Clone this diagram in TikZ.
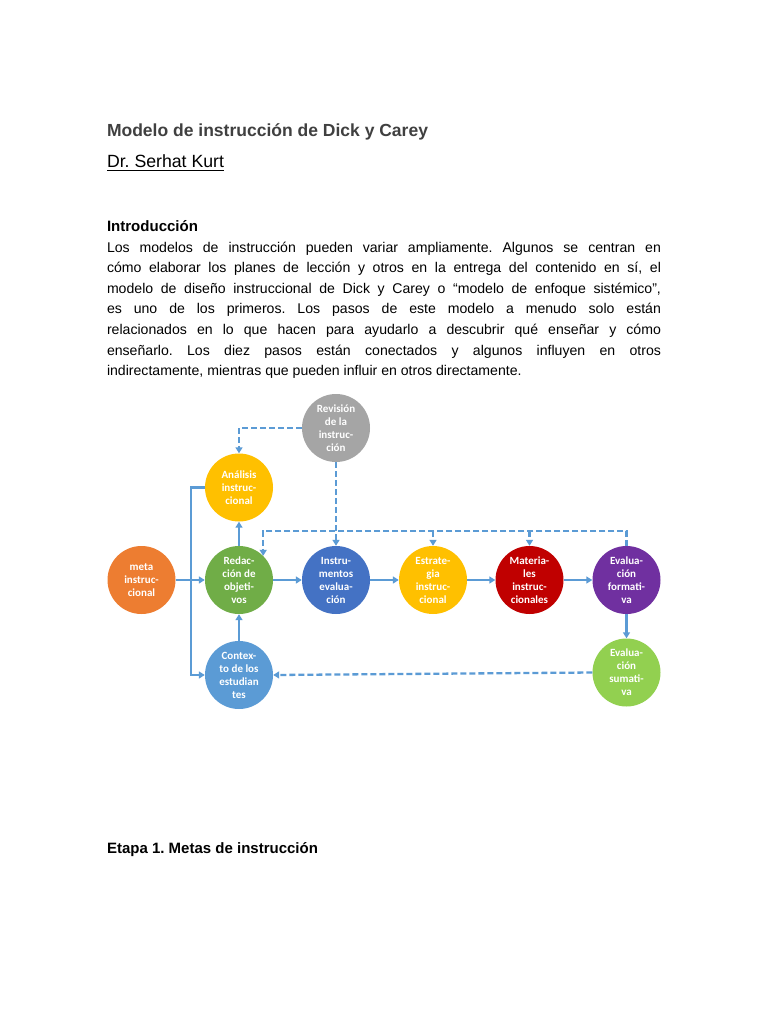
\documentclass[tikz,border=0pt]{standalone}
\usepackage{fontspec}
\setmainfont{Liberation Sans}
\newfontfamily\calibfont{Carlito}
\usetikzlibrary{arrows.meta}
\frenchspacing
\definecolor{lineblue}{HTML}{5B9BD5}
\definecolor{cOrange}{HTML}{ED7D31}
\definecolor{cGreen}{HTML}{70AD47}
\definecolor{cGold}{HTML}{FFC000}
\definecolor{cLightBlue}{HTML}{5B9BD5}
\definecolor{cGray}{HTML}{A5A5A5}
\definecolor{cBlue}{HTML}{4472C4}
\definecolor{cRed}{HTML}{C00000}
\definecolor{cPurple}{HTML}{7030A0}
\definecolor{cLime}{HTML}{92D050}
\definecolor{titlegray}{HTML}{404040}
\newcommand\jline[1]{\makebox[554pt][s]{#1}}
\tikzset{
  txt/.style={anchor=base west, inner sep=0pt, outer sep=0pt},
  body/.style={txt, font=\fontsize{14.1}{20.6}\selectfont},
  stage/.style={circle, minimum size=68pt, inner sep=0pt, text=white,
    font=\calibfont\bfseries\fontsize{11}{13}\selectfont, align=center},
  conn/.style={draw=lineblue, line width=2.3pt},
  arr/.style={conn, -{Triangle[length=6pt,width=7pt]}},
  dconn/.style={conn, dash pattern=on 6pt off 3pt},
  darr/.style={dconn, -{Triangle[length=6pt,width=7pt]}}
}
\begin{document}
\begin{tikzpicture}[x=1pt,y=-1pt]
\useasboundingbox[fill=white] (0,0) rectangle (768,1024);

% header texts
\node[txt, text=titlegray] (title) at (107,137) {\resizebox{321pt}{!}{\bfseries Modelo de instrucción de Dick y Carey}};
\node[txt] (author) at (107,168) {\resizebox{117pt}{!}{\underline{Dr. Serhat Kurt}}};
\node[txt] (intro) at (107,232) {\resizebox{91pt}{!}{\bfseries Introducción}};
\node[body] (l1) at (107,252) {\jline{Los modelos de instrucción pueden variar ampliamente. Algunos se centran en}};
\node[body] (l2) at (107,272.6) {\jline{cómo elaborar los planes de lección y otros en la entrega del contenido en sí, el}};
\node[body] (l3) at (107,293.2) {\jline{modelo de diseño instruccional de Dick y Carey o “modelo de enfoque sistémico”,}};
\node[body] (l4) at (107,313.8) {\jline{es uno de los primeros. Los pasos de este modelo a menudo solo están}};
\node[body] (l5) at (107,334.4) {\jline{relacionados en lo que hacen para ayudarlo a descubrir qué enseñar y cómo}};
\node[body] (l6) at (107,355) {\jline{enseñarlo. Los diez pasos están conectados y algunos influyen en otros}};
\node[body] (l7) at (107,375.6) {indirectamente, mientras que pueden influir en otros directamente.};
\node[txt] (etapa) at (107,853) {\resizebox{211pt}{!}{\bfseries Etapa 1. Metas de instrucción}};

% stages
\node[stage, fill=cOrange] (meta) at (141.5,580) {meta\\instruc-\\cional};
\node[stage, fill=cGreen] (red) at (239,580) {Redac-\\ción de\\objeti-\\vos};
\node[stage, fill=cGold] (ana) at (239,487.5) {Análisis\\instruc-\\cional};
\node[stage, fill=cLightBlue] (ctx) at (239,675) {Contex-\\to de los\\estudian\\tes};
\node[stage, fill=cGray] (rev) at (336,428) {Revisión\\de la\\instruc-\\ción};
\node[stage, fill=cBlue] (ins) at (336,580) {Instru-\\mentos\\evalua-\\ción};
\node[stage, fill=cGold] (est) at (433,580) {Estrate-\\gia\\instruc-\\cional};
\node[stage, fill=cRed] (mat) at (529.5,580) {Materia-\\les\\instruc-\\cionales};
\node[stage, fill=cPurple] (for) at (626.5,580) {Evalua-\\ción\\formati-\\va};
\node[stage, fill=cLime] (sum) at (626.5,672.5) {Evalua-\\ción\\sumati-\\va};

% solid connectors
\coordinate (split) at (191,580);
\coordinate (fbtop) at (627,531);
\draw[arr] (meta) -- (red);
\draw[conn] (split) |- (ana.west);
\draw[arr] (split) |- (ctx.west);
\draw[arr] (red) -- (ana);
\draw[arr] (ctx) -- (red);
\draw[arr] (red) -- (ins);
\draw[arr] (ins) -- (est);
\draw[arr] (est) -- (mat);
\draw[arr] (mat) -- (for);
\draw[arr] (for) -- (sum);

% dashed connectors
\draw[darr] (rev.west) -| (ana.north);
\draw[darr] (rev.south) -- (ins.north);
\draw[darr] (for.north) -- (for.north |- fbtop) -- (red.45 |- fbtop) -- (red.45);
\draw[darr] (est.north |- fbtop) -- (est.north);
\draw[darr] (mat.north |- fbtop) -- (mat.north);
\draw[darr] (sum.west) -- (ctx.east);
\end{tikzpicture}
\end{document}
